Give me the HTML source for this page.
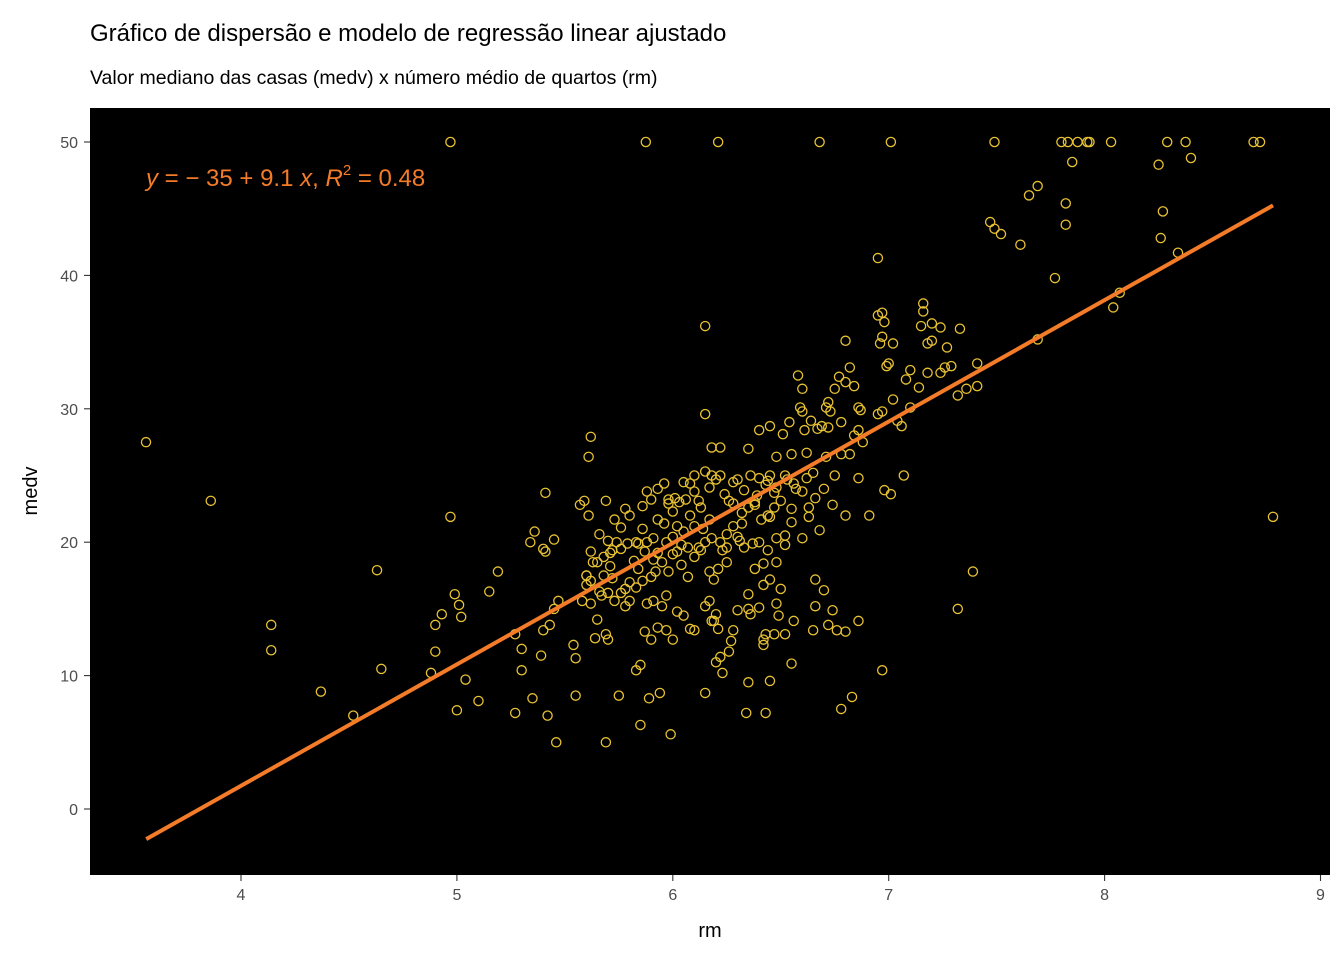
<!DOCTYPE html>
<html><head><meta charset="utf-8">
<style>
body{margin:0;background:#fff;font-family:"Liberation Sans",sans-serif;}
svg text{font-family:"Liberation Sans",sans-serif;}
</style></head>
<body>
<svg id="chart" width="1344" height="960" xmlns="http://www.w3.org/2000/svg">
<rect x="0" y="0" width="1344" height="960" fill="#fff"/>
<text x="90" y="41" font-size="24" fill="#000">Gráfico de dispersão e modelo de regressão linear ajustado</text>
<text x="90" y="84" font-size="19.5" fill="#000">Valor mediano das casas (medv) x número médio de quartos (rm)</text>
<rect x="90" y="108" width="1240" height="767" fill="#000"/>
<g id="xaxis"></g>
<g id="yaxis"></g>
<g id="points"></g>
<g id="fit"></g>
<text x="146" y="186" font-size="24" fill="#f47b28"><tspan font-style="italic">y</tspan> = − 35 + 9.1 <tspan font-style="italic">x</tspan>,  <tspan font-style="italic">R</tspan><tspan font-size="15" dy="-11">2</tspan><tspan dy="11"> = 0.48</tspan></text>
<text x="710" y="937" font-size="20" text-anchor="middle" fill="#000">rm</text>
<text x="0" y="0" font-size="20" text-anchor="middle" fill="#000" transform="translate(37,491) rotate(-90)">medv</text>
</svg>
<script>
const xTicks=[4,5,6,7,8,9];
const yTicks=[0,10,20,30,40,50];
const fitIntercept=-34.67;
const fitSlope=9.102;
const fitRange=[3.561,8.78];
const rmValues=[4.97,5.875,6.21,6.68,7.01,7.49,7.80,7.83,7.875,7.92,7.93,8.03,8.29,8.375,8.69,8.72,
3.56,3.86,4.14,4.14,4.37,4.52,4.63,4.65,4.88,4.90,4.90,4.93,4.97,4.99,5.00,5.01,5.02,5.04,5.10,5.15,5.19,5.27,5.27,5.30,5.30,5.34,5.35,5.36,5.39,5.40,5.40,5.41,5.41,5.42,5.43,5.45,5.45,5.46,5.47,5.54,5.55,5.55,5.57,5.59,5.60,5.61,5.62,5.69,5.75,5.83,5.85,5.85,5.89,5.94,5.99,6.15,6.15,6.15,6.18,6.20,6.23,6.27,6.35,6.34,6.43,6.45,6.55,6.65,6.68,6.78,6.83,6.86,6.97,6.95,6.91,6.98,7.01,7.07,7.16,7.32,7.39,7.41,7.47,7.52,7.49,7.61,7.65,7.69,7.69,7.77,7.82,7.82,7.85,8.04,8.07,8.25,8.26,8.27,8.34,8.40,8.78,
7.33,7.27,7.24,7.20,7.18,7.15,7.16,7.10,7.08,7.10,7.04,7.06,7.02,6.97,6.95,6.97,6.96,6.98,6.97,6.95,6.99,7.00,7.02,7.14,7.18,7.20,7.24,7.26,7.29,7.32,7.36,7.41,6.80,6.82,6.80,6.77,6.75,6.84,6.86,6.87,6.84,6.86,6.88,6.86,6.80,6.75,6.72,6.71,6.72,6.69,6.64,6.60,6.58,6.60,6.61,6.59,6.54,6.51,6.55,6.62,6.70,6.74,6.66,6.60,6.55,6.57,6.50,6.47,6.44,6.41,6.38,6.40,6.43,6.45,6.48,6.52,6.56,6.62,6.65,6.71,6.78,6.82,6.78,6.73,6.67,6.45,6.40,6.48,6.35,6.22,6.28,6.22,6.20,6.15,6.18,6.10,6.08,6.05,6.10,6.12,6.13,6.17,6.24,6.26,6.30,6.32,6.35,6.32,6.28,6.25,6.25,6.23,6.22,6.18,6.15,6.17,6.14,6.10,6.08,6.05,6.02,6.00,5.98,5.96,5.93,5.91,5.88,5.86,5.84,5.82,5.79,5.76,5.72,5.70,5.68,5.71,5.63,5.60,5.62,5.66,5.70,5.73,5.76,5.78,5.80,5.83,5.86,5.90,5.92,5.95,5.98,6.00,6.02,6.04,6.07,6.10,6.13,6.17,6.19,6.21,6.25,6.30,6.33,6.37,6.40,6.44,6.48,6.52,6.38,6.42,6.45,6.50,6.48,6.42,6.35,6.30,6.36,6.42,6.43,6.47,6.42,6.49,6.48,6.56,6.66,6.66,6.70,6.72,6.74,6.76,6.80,6.28,6.21,6.18,6.17,6.15,6.20,6.19,6.08,6.10,6.05,6.02,6.00,5.97,5.93,5.90,5.87,5.88,5.91,5.95,5.97,5.70,5.69,5.64,5.65,5.67,5.62,5.58,5.60,5.72,5.78,5.62,5.65,5.71,5.73,5.76,5.78,5.80,5.83,5.86,5.88,5.90,5.93,5.96,5.98,6.01,6.03,6.06,5.91,5.93,5.97,6.00,5.69,5.66,5.80,5.84,5.61,6.33,6.36,6.38,6.44,6.47,6.53,6.60,6.63,6.26,6.22,6.35,6.40,6.52,6.63,6.52,6.55,6.45,6.39,6.31,6.28,6.12,6.07,6.04,5.87,5.74,5.68];
const medvValues=[50,50,50,50,50,50,50,50,50,50,50,50,50,50,50,50,
27.5,23.1,13.8,11.9,8.8,7.0,17.9,10.5,10.2,13.8,11.8,14.6,21.9,16.1,7.4,15.3,14.4,9.7,8.1,16.3,17.8,13.1,7.2,12.0,10.4,20.0,8.3,20.8,11.5,19.5,13.4,19.3,23.7,7.0,13.8,15.0,20.2,5.0,15.6,12.3,8.5,11.3,22.8,23.1,17.5,26.4,27.9,5.0,8.5,10.4,10.8,6.3,8.3,8.7,5.6,8.7,36.2,29.6,27.1,11.0,10.2,12.6,9.5,7.2,7.2,9.6,10.9,13.4,20.9,7.5,8.4,14.1,10.4,41.3,22.0,23.9,23.6,25.0,37.9,15.0,17.8,33.4,44.0,43.1,43.5,42.3,46.0,46.7,35.2,39.8,45.4,43.8,48.5,37.6,38.7,48.3,42.8,44.8,41.7,48.8,21.9,
36.0,34.6,36.1,36.4,34.9,36.2,37.3,32.9,32.2,30.1,29.1,28.7,30.7,29.8,29.6,35.4,34.9,36.5,37.2,37.0,33.2,33.4,34.9,31.6,32.7,35.1,32.7,33.1,33.2,31.0,31.5,31.7,35.1,33.1,32.0,32.4,31.5,31.7,30.1,29.9,28.0,28.4,27.5,24.8,22.0,25.0,28.6,30.1,30.5,28.7,29.1,31.5,32.5,29.8,28.4,30.1,29.0,28.1,26.6,26.7,24.0,22.8,23.3,23.8,22.5,24.0,23.1,22.6,22.0,21.7,23.0,24.8,24.3,25.0,24.1,25.0,24.4,24.8,25.2,26.4,26.6,26.6,29.0,29.8,28.5,28.7,28.4,26.4,27.0,27.1,24.5,25.0,24.7,25.3,25.0,25.0,24.4,24.5,23.8,23.1,22.6,24.1,23.6,23.1,24.7,22.2,22.6,21.4,21.2,20.6,19.6,19.4,20.0,20.3,20.0,21.7,21.0,21.2,22.0,20.8,21.2,22.3,22.9,21.4,21.7,20.3,20.0,21.0,19.9,18.6,19.9,19.5,19.4,20.1,18.9,18.2,18.5,17.5,17.1,16.3,16.2,15.6,16.2,15.2,15.6,16.6,17.1,17.4,17.8,18.5,17.8,19.1,19.3,19.8,19.6,18.9,19.4,17.8,17.2,18.0,18.5,20.4,19.6,19.9,20.0,19.4,20.3,20.5,18.0,16.8,17.2,16.5,18.5,18.4,16.1,14.9,14.6,12.7,13.1,13.1,12.3,14.5,15.4,14.1,15.2,17.2,16.4,13.8,14.9,13.4,13.3,13.4,13.5,14.1,15.6,15.2,14.6,14.1,13.5,13.4,14.5,14.8,12.7,13.4,13.6,12.7,13.3,15.4,15.6,15.2,16.0,12.7,13.1,12.8,14.2,16.0,15.4,15.6,16.8,17.3,16.5,19.3,18.5,19.2,21.7,21.1,22.5,22.0,20.0,22.7,23.8,23.2,24.0,24.4,23.2,23.3,23.0,23.2,18.7,19.2,20.0,20.4,23.1,20.6,17.0,18.0,22.0,23.9,25.0,22.8,24.6,23.7,24.7,20.3,21.9,11.8,11.4,15.0,15.1,13.1,22.6,19.8,21.5,21.9,23.5,20.1,22.9,19.6,17.4,18.3,19.3,20.0,17.5];
const NS='http://www.w3.org/2000/svg';
const X=v=>241+(v-4)*215.9;
const Y=v=>809-v*13.34;
const xa=document.getElementById('xaxis'),ya=document.getElementById('yaxis');
function mk(t,a,p){const e=document.createElementNS(NS,t);for(const k in a)e.setAttribute(k,a[k]);p.appendChild(e);return e;}
xTicks.forEach(t=>{
 const l=mk('line',{x1:X(t),x2:X(t),y1:875,y2:881,stroke:'#333','stroke-width':1.1},xa);
 
 
 const tx=mk('text',{x:X(t),y:900,'font-size':16,'text-anchor':'middle',fill:'#4d4d4d'},xa);
 tx.textContent=t;
 
 
});
yTicks.forEach(t=>{
 const l=mk('line',{x1:84,x2:90,y1:Y(t),y2:Y(t),stroke:'#333','stroke-width':1.1},ya);
 
 
 const tx=mk('text',{x:78,y:Y(t)+6,'font-size':16,'text-anchor':'end',fill:'#4d4d4d'},ya);
 tx.textContent=t;
 
 
});
const pg=document.getElementById('points');
rmValues.forEach((r,i)=>{
 const c=mk('circle',{cx:X(r),cy:Y(medvValues[i]),r:4.6,fill:'none',stroke:'#e8c233','stroke-width':1.3},pg);
 
 
});
const fl=mk('line',{x1:X(fitRange[0]),y1:Y(fitIntercept+fitSlope*fitRange[0]),x2:X(fitRange[1]),y2:Y(fitIntercept+fitSlope*fitRange[1]),stroke:'#f47b28','stroke-width':4},document.getElementById('fit'));


</script>
</body></html>
